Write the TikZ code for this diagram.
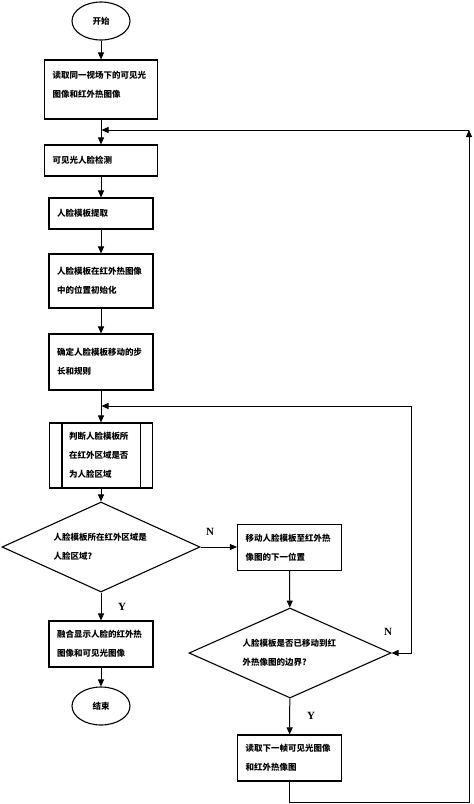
\documentclass[tikz,border=0pt]{standalone}
\usepackage{fontspec}
\setmainfont{Liberation Serif}
\newfontfamily\cjk{Noto Sans CJK SC}
\usetikzlibrary{shapes.geometric,arrows.meta}
\begin{document}
\begin{tikzpicture}[x=1pt,y=-1pt,
  txt/.style={font=\cjk\bfseries\fontsize{8.5}{19}\selectfont},
  box/.style={draw, line width=1.1pt, rectangle, txt, text width=88pt, inner xsep=8pt, inner ysep=0pt, align=left},
  term/.style={draw, line width=1.1pt, ellipse, txt, minimum width=58pt, minimum height=38pt, inner sep=0pt},
  dec/.style={draw, line width=1.1pt, diamond, aspect=2.2, txt, text width=95pt, align=left, inner sep=0pt, minimum width=198pt, minimum height=90pt},
  arr/.style={line width=1pt, -{Triangle[length=7pt,width=6pt]}},
  lab/.style={font=\bfseries\fontsize{11}{13}\selectfont}]
\useasboundingbox (0,0) rectangle (474,804);
\fill[white] (0,0) rectangle (474,804);

\node[term] (start) at (101,21) {开始};
\node[box, text width=97pt, minimum height=59pt] (b1) at (101,89.5) {读取同一视场下的可见光\\图像和红外热图像\\[-9pt]\mbox{}};
\node[box, text width=97pt, minimum height=31pt] (b2) at (101,160.5) {可见光人脸检测};
\node[box, minimum height=31pt] (b3) at (101,213.5) {人脸模板提取};
\node[box, minimum height=54pt] (b4) at (101,281) {人脸模板在红外热图像\\中的位置初始化};
\node[box, minimum height=56pt] (b5) at (101,362) {确定人脸模板移动的步\\长和规则};
\node[box, text width=64pt, inner xsep=19.5pt, minimum height=65pt] (p) at (101,455.5) {判断人脸模板所\\在红外区域是否\\为人脸区域};
\draw[line width=1.1pt] ([xshift=13pt]p.north west) -- ([xshift=13pt]p.south west);
\draw[line width=1.1pt] ([xshift=-13pt]p.north east) -- ([xshift=-13pt]p.south east);
\node[dec] (d1) at (101,547) {人脸模板所在红外区域是\\人脸区域?};
\node[box, minimum height=46pt] (b6) at (289.5,547.5) {移动人脸模板至红外热\\像图的下一位置};
\node[dec, minimum width=202pt] (d2) at (290,653) {人脸模板是否已移动到红\\外热像图的边界?};
\node[box, minimum height=46pt] (b7) at (101,644) {融合显示人脸的红外热\\图像和可见光图像};
\node[term] (end) at (101,706) {结束};
\node[box, minimum height=46pt] (b8) at (289.5,758) {读取下一帧可见光图像\\和红外热像图};

\node[lab] (n1) at (210,532) {N};
\node[lab] (y1) at (122,607) {Y};
\node[lab] (n2) at (388,632) {N};
\node[lab] (y2) at (311,716) {Y};

\draw[arr] (start) -- (b1);
\draw[arr] (b1) -- (b2);
\draw[arr] (b2) -- (b3);
\draw[arr] (b3) -- (b4);
\draw[arr] (b4) -- (b5);
\draw[arr] (b5) -- (p);
\draw[arr] (p) -- (d1);
\draw[arr] (d1.east) -- (d1.east -| b6.west);
\draw[arr] (b6) -- (d2);
\draw[arr] (d1) -- (b7);
\draw[arr] (b7) -- (end);
\draw[arr] (d2) -- (b8);

\coordinate (c1) at (469,130);
\coordinate (j1) at (101.5,130);
\draw[arr] (b8.south) -- ++(0,21) -| (c1);
\draw[arr] (c1) -- (j1);

\coordinate (c2) at (411,406);
\coordinate (j2) at (101.5,406);
\draw[line width=1pt, {Triangle[length=7pt,width=6pt]}-{Triangle[length=7pt,width=6pt]}] (d2.east) -| (c2) -- (j2);
\end{tikzpicture}
\end{document}
